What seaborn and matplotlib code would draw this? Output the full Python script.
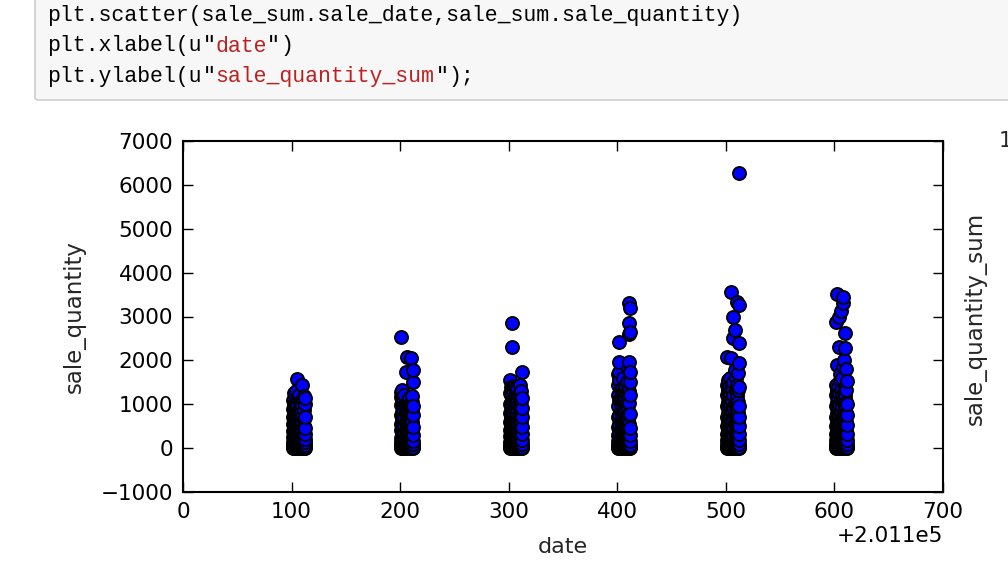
import matplotlib
matplotlib.use("Agg")
import matplotlib.pyplot as plt
from matplotlib.patches import FancyBboxPatch
from matplotlib.ticker import ScalarFormatter, MultipleLocator
import seaborn as sns
import pandas as pd

# ---------------- data ----------------
months = list(range(1, 13))
year_bases = [201200, 201300, 201400, 201500, 201600, 201700]

qty_2012 = [
    [0, 15, 40, 80, 150, 260, 400, 560, 720, 900, 1100],
    [0, 20, 60, 120, 200, 340, 500, 650, 793, 1000, 1248],
    [0, 10, 50, 100, 180, 300, 450, 600, 800, 950],
    [0, 30, 70, 130, 220, 350, 480, 640, 850, 1050, 1300],
    [0, 25, 90, 170, 280, 420, 560, 760, 980, 1575],
    [0, 10, 45, 110, 190, 310, 470, 620, 830, 1120],
    [0, 35, 85, 160, 250, 380, 520, 700, 900, 1200],
    [0, 20, 55, 140, 230, 360, 526, 680, 880, 1060],
    [0, 15, 65, 125, 210, 330, 490, 640, 820, 1000],
    [0, 30, 75, 150, 240, 390, 540, 730, 950, 1438],
    [0, 10, 60, 115, 246, 350, 500, 660, 860, 1180],
    [0, 25, 80, 135, 200, 320, 460, 700, 1005, 1135],
]
qty_2013 = [
    [0, 20, 60, 130, 230, 412, 560, 760, 980, 1160, 1285, 2539],
    [0, 15, 50, 110, 200, 320, 480, 640, 820, 1050, 1324],
    [0, 30, 80, 150, 260, 380, 540, 700, 900, 1100],
    [0, 10, 45, 120, 210, 340, 500, 680, 982, 1200],
    [0, 25, 70, 160, 280, 420, 600, 800, 1000, 1741],
    [0, 35, 90, 140, 240, 360, 520, 720, 940, 2083],
    [0, 20, 55, 125, 220, 330, 470, 602, 850, 1080],
    [0, 15, 65, 135, 250, 390, 550, 740, 960, 1140],
    [0, 30, 170, 300, 450, 620, 800, 1000],
    [0, 10, 75, 145, 270, 412, 580, 780, 1020, 2046],
    [0, 25, 60, 155, 290, 440, 600, 830, 1050, 1187],
    [0, 20, 85, 165, 310, 480, 754, 950, 1513, 1780],
]
qty_2014 = [
    [0, 20, 70, 150, 270, 420, 600, 800, 1000, 1250, 1552],
    [0, 15, 55, 120, 230, 380, 540, 720, 950, 1200, 1400],
    [0, 30, 90, 180, 300, 451, 620, 850, 1100, 1350, 2311, 2844],
    [0, 10, 60, 140, 260, 400, 580, 780, 1020, 1300],
    [0, 25, 80, 160, 290, 440, 650, 900, 1150, 1420],
    [0, 32, 100, 200, 330, 500, 700, 950, 1171, 1380],
    [0, 15, 65, 130, 250, 390, 560, 760, 1000, 1250],
    [0, 20, 75, 170, 310, 470, 680, 900, 1120, 1350],
    [0, 10, 50, 110, 220, 360, 520, 740, 980, 1200],
    [0, 30, 95, 190, 340, 500, 720, 960, 1200, 1438],
    [0, 20, 70, 150, 280, 430, 610, 830, 1080, 1300],
    [0, 32, 85, 180, 320, 480, 700, 920, 1150, 1742],
]
qty_2015 = [
    [0, 20, 80, 160, 300, 480, 700, 950, 1200, 1450, 1700],
    [0, 30, 100, 200, 350, 550, 754, 1096, 1552, 1742, 1969, 2425],
    [0, 15, 60, 140, 260, 420, 620, 850, 1100, 1350],
    [0, 25, 90, 180, 320, 500, 720, 980, 1250],
    [0, 10, 50, 120, 240, 400, 600, 830, 1080, 1300, 1600],
    [0, 32, 110, 220, 380, 580, 800, 1050, 1280],
    [0, 20, 70, 150, 280, 450, 660, 900, 1150, 1400],
    [0, 15, 85, 190, 340, 520, 740, 1000, 1250],
    [0, 25, 95, 170, 310, 490, 700, 940, 1200, 1500],
    [0, 10, 60, 130, 250, 410, 610, 860, 1120, 1350, 1800],
    [0, 30, 100, 210, 370, 560, 780, 1020, 1300, 1969, 2600, 2844, 3314],
    [0, 20, 75, 160, 290, 460, 780, 1210, 1515, 1742, 2653, 3186],
]
qty_2016 = [
    [0, 20, 90, 180, 320, 500, 720, 950, 1200, 1450, 2083],
    [0, 30, 110, 220, 380, 580, 800, 1050, 1300, 1550],
    [0, 15, 70, 150, 280, 450, 650, 900, 1150, 1400],
    [0, 25, 100, 200, 350, 540, 760, 1000, 1250, 1590],
    [0, 10, 60, 140, 260, 420, 620, 850, 1100, 1350, 2046, 3565],
    [0, 32, 120, 240, 400, 600, 830, 1080, 1330],
    [0, 20, 80, 170, 310, 480, 700, 940, 1200, 1500, 2500, 2995],
    [0, 15, 90, 190, 340, 520, 740, 990, 1780, 2692],
    [0, 25, 100, 210, 360, 560, 780, 1030, 1280, 1600],
    [0, 10, 65, 150, 290, 460, 680, 920, 1180, 1450, 3337],
    [0, 30, 110, 230, 390, 590, 810, 1060, 1320, 1710],
    [0, 20, 85, 180, 330, 500, 720, 960, 1400, 1932, 2389, 3262, 6277],
]
qty_2017 = [
    [0, 20, 90, 180, 320, 500, 720, 950, 1200, 1450, 2880],
    [0, 30, 110, 220, 380, 580, 800, 1050, 1300, 1900, 3512],
    [0, 15, 70, 150, 280, 450, 650, 900, 1150, 1400],
    [0, 25, 100, 200, 350, 540, 760, 1000, 1250, 2300, 2995],
    [0, 10, 60, 140, 260, 420, 620, 850, 1552, 1700],
    [0, 32, 120, 240, 400, 600, 830, 1080, 1330, 3132],
    [0, 20, 80, 170, 310, 480, 700, 940, 1200, 1600],
    [0, 15, 90, 190, 340, 520, 740, 1096, 1855, 3300, 3450],
    [0, 25, 100, 210, 360, 560, 780, 1030, 1280, 2000],
    [0, 10, 65, 150, 290, 460, 680, 920, 1180, 1400, 2275, 2630],
    [0, 30, 110, 230, 390, 590, 810, 1060, 1320, 1800],
    [0, 20, 85, 180, 330, 520, 750, 1000, 1520],
]
all_years = [qty_2012, qty_2013, qty_2014, qty_2015, qty_2016, qty_2017]

x_ticks = [0, 100, 200, 300, 400, 500, 600, 700]
y_ticks = [-1000, 0, 1000, 2000, 3000, 4000, 5000, 6000, 7000]
x_offset = 201100

code_line1 = "plt.scatter(sale_sum.sale_date,sale_sum.sale_quantity)"
code_line2 = [("plt.xlabel(u", "k"), ("″", "k"), ("date", "r"), ("″", "k"), (")", "k")]
code_line3 = [("plt.ylabel(u", "k"), ("″", "k"), ("sale_quantity_sum", "r"), ("″", "k"), (");", "k")]

rows = []
for base, year in zip(year_bases, all_years):
    for m, vals in zip(months, year):
        for v in vals:
            rows.append({"sale_date": base + m, "sale_quantity": v})
sale_sum = pd.DataFrame(rows)

# ---------------- style ----------------
sns.set_style("ticks")
plt.rcParams["font.family"] = ["DejaVu Sans"]
plt.rcParams["axes.linewidth"] = 1.5
plt.rcParams["axes.edgecolor"] = "black"

W, H = 1008, 567
fig = plt.figure(figsize=(W / 100, H / 100), dpi=100)
fig.patch.set_facecolor("white")

# code cell box
box = FancyBboxPatch((35 / W, 1 - 100 / H), 1.2, 0.3,
                     boxstyle="round,pad=0,rounding_size=0.004",
                     transform=fig.transFigure, facecolor="#f7f7f7",
                     edgecolor="#cfcfcf", linewidth=1.2)
fig.patches.append(box)

cw = 12.95
mono = "Liberation Mono"
fs_code = 15.5
def put_line(parts, y_px):
    n = 0
    for txt, c in parts:
        col = "#000000" if c == "k" else "#ba2121"
        fig.text((47 + n * cw) / W, 1 - y_px / H, txt, family=[mono, "DejaVu Sans Mono"],
                 fontsize=fs_code, color=col, va="center", ha="left")
        n += len(txt)

put_line([(code_line1, "k")], 15)
put_line(code_line2, 46)
put_line(code_line3, 77)

ax = fig.add_axes([183 / W, 1 - 492 / H, (943 - 183) / W, (492 - 141) / H])
sns.scatterplot(data=sale_sum, x="sale_date", y="sale_quantity", ax=ax,
                color="#0000ff", edgecolor="black", linewidth=1.35, s=88,
                legend=False, zorder=3)

ax.set_xlim(x_offset + x_ticks[0], x_offset + x_ticks[-1])
ax.set_ylim(y_ticks[0], y_ticks[-1])
ax.xaxis.set_major_locator(MultipleLocator(100))
ax.yaxis.set_major_locator(MultipleLocator(1000))
fmt = ScalarFormatter(useOffset=x_offset)
ax.xaxis.set_major_formatter(fmt)
ax.tick_params(direction="in", top=True, right=True, length=7, width=1.0,
               labelsize=15.5, pad=7, colors="black")
ax.xaxis.get_offset_text().set_fontsize(15.5)
ax.set_xlabel("date", fontsize=16, labelpad=11)
ax.set_ylabel("sale_quantity", fontsize=16.5, labelpad=11)
for s in ax.spines.values():
    s.set_visible(True)
    s.set_linewidth(1.5)

fig.text(975 / W, 1 - 318 / H, "sale_quantity_sum", rotation=90, fontsize=16.5,
         ha="center", va="center")
fig.text(999 / W, 1 - 141 / H, "1", fontsize=15.5, ha="left", va="center")

fig.savefig("out.png", dpi=100)
